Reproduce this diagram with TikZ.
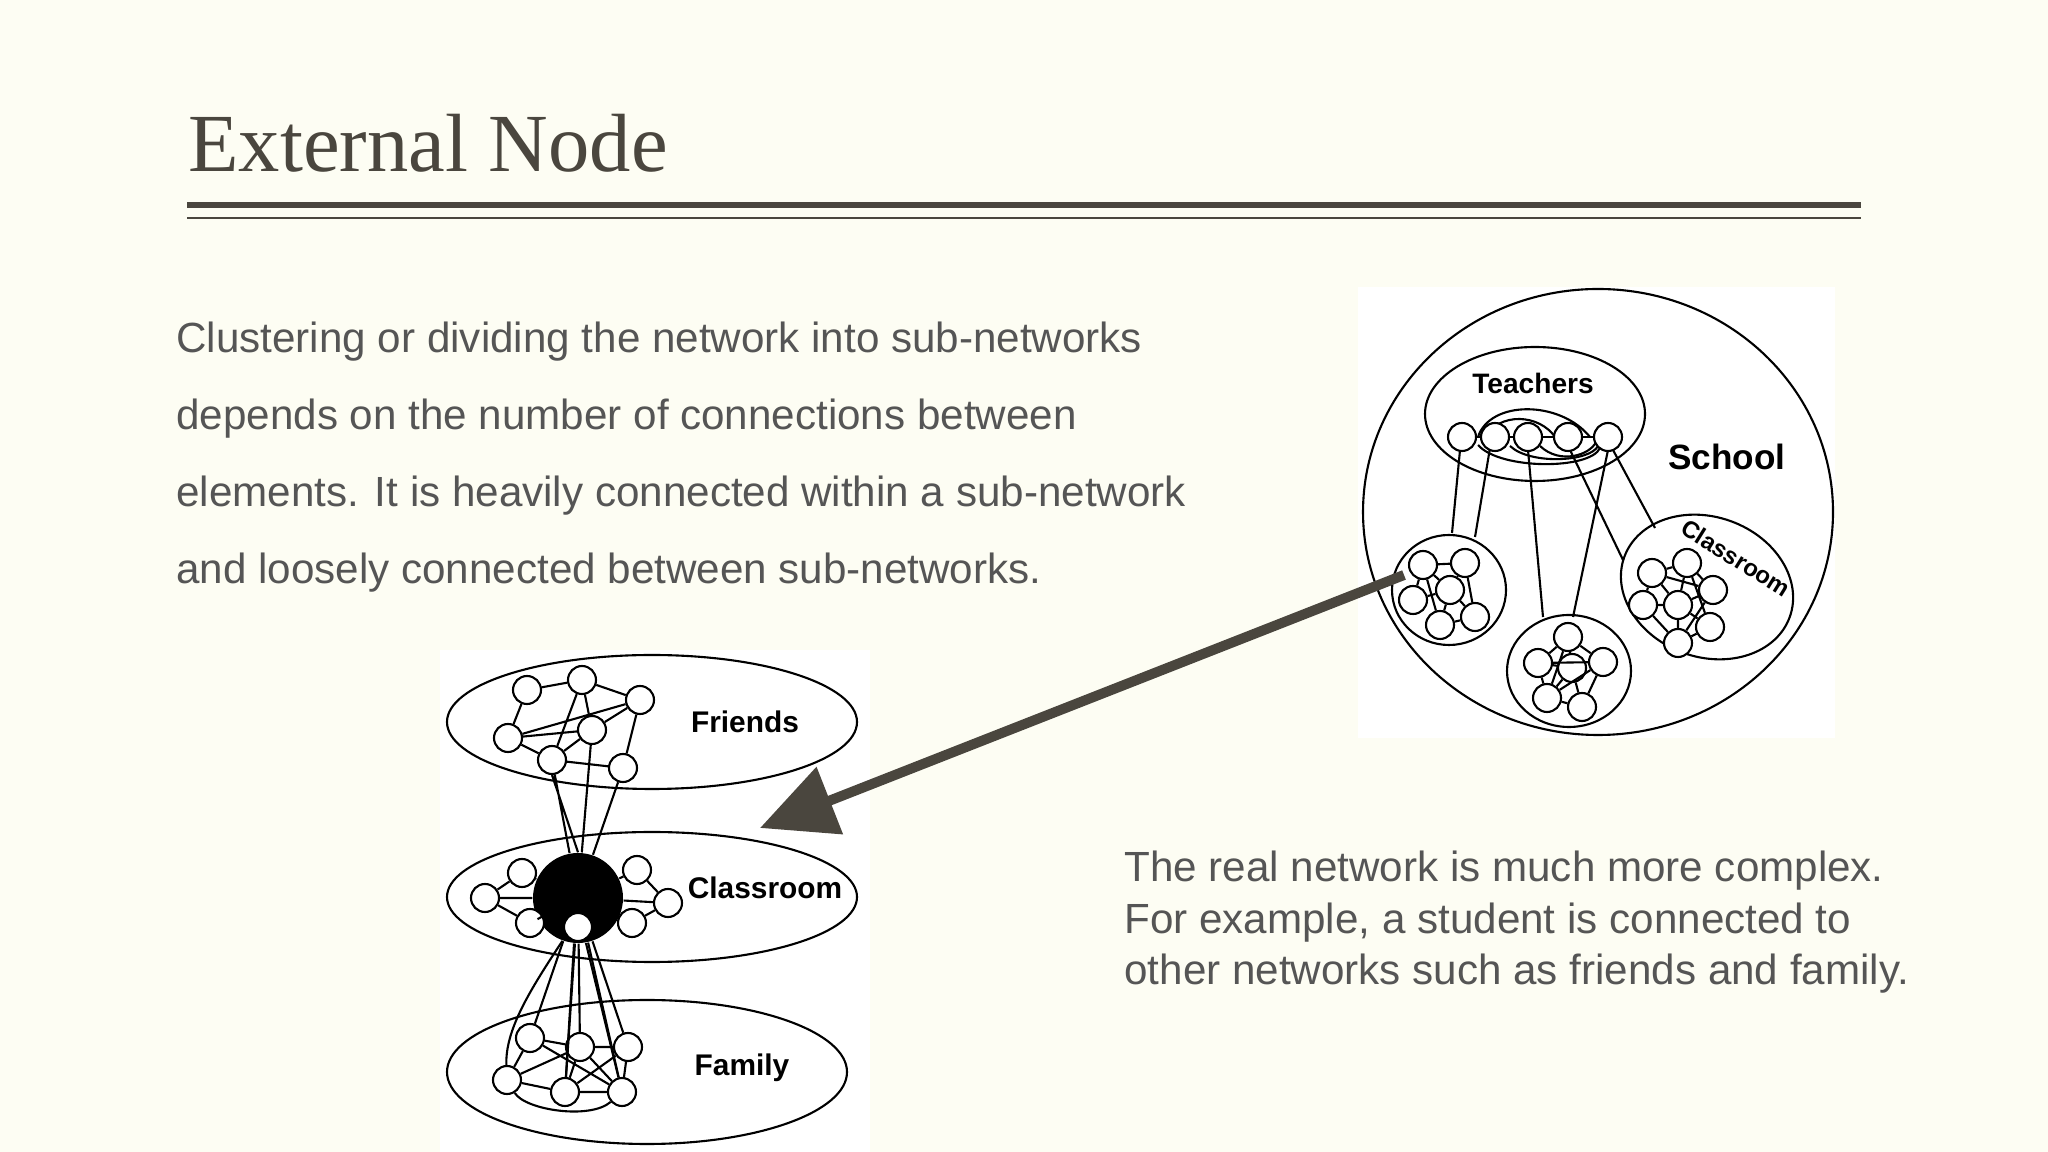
\documentclass[tikz,border=0pt]{standalone}
\usepackage{fontspec}
\setmainfont{Liberation Sans}
\newfontfamily\titlefont{Liberation Serif}
\usetikzlibrary{arrows.meta,shapes.geometric}
\definecolor{bg}{HTML}{FDFDF3}
\definecolor{ink}{HTML}{4A463E}
\definecolor{txt}{HTML}{555555}
\begin{document}
\begin{tikzpicture}[x=0.1mm,y=-0.1mm,
  sn/.style={circle,draw,line width=0.6pt,minimum size=2.8mm,inner sep=0,fill=white},
  grp/.style={ellipse,draw,line width=0.6pt,inner sep=0},
  lab/.style={font=\bfseries\fontsize{8}{9}\selectfont},
  ed/.style={line width=0.6pt},
  para/.style={text=txt,anchor=west,font=\fontsize{12}{14}\selectfont}]
\fill[bg] (0,0) rectangle (2048,1152);
\useasboundingbox (0,0) rectangle (2048,1152);
\fill[white] (1358,287) rectangle (1835,738);
\fill[white] (440,650) rectangle (870,1152);
% title
\node[anchor=west,text=ink,font=\titlefont\fontsize{23.5}{28}\selectfont] (title) at (176,143) {External Node};
\draw[ink,line width=0.65mm] (187,205) -- (1861,205);
\draw[ink,line width=0.15mm] (187,218) -- (1861,218);
% paragraph
\node[para] (p1) at (164,342) {Clustering or dividing the network into sub-networks};
\node[para] (p2) at (164,419) {depends on the number of connections between};
\node[para] (p3) at (164,496) {elements. It is heavily connected within a sub-network};
\node[para] (p4) at (164,573) {and loosely connected between sub-networks.};
\node[para] (q1) at (1112,871) {The real network is much more complex.};
\node[para] (q2) at (1112,923) {For example, a student is connected to};
\node[para] (q3) at (1112,974) {other networks such as friends and family.};
% ===== School diagram
\node[grp,minimum width=47mm,minimum height=44.6mm] (school) at (1598,512) {};
\node[font=\bfseries\fontsize{10}{12}\selectfont] (schoollab) at (1727,457) {School};
\node[grp,minimum width=22mm,minimum height=13.4mm] (teach) at (1535,414) {};
\node[lab] (teachlab) at (1533,383) {Teachers};
\node[grp,minimum width=11.4mm,minimum height=11mm] (L) at (1449,590) {};
\node[grp,minimum width=12.4mm,minimum height=11.2mm] (B) at (1569,671) {};
\node[grp,minimum width=17.6mm,minimum height=14mm,rotate=-20] (R) at (1707,587) {};
\node[font=\bfseries\fontsize{6.8}{8}\selectfont,rotate=-32,inner sep=0] (rlab) at (1736,558) {Classroom};
% teacher links
\draw[ed] (1460,450) -- (1452,533);
\draw[ed] (1490,448) -- (1475,537);
\draw[ed] (1528,450) -- (1543,617);
\draw[ed] (1608,450) -- (1573,617);
\draw[ed] (1570,450) -- (1623,560);
\draw[ed] (1613,450) -- (1655,528);
% teacher arcs
\draw[ed] (1478,437) .. controls (1490,400) and (1560,400) .. (1590,437);
\draw[ed] (1482,440) .. controls (1500,410) and (1540,415) .. (1555,437);
\draw[ed] (1478,445) .. controls (1500,470) and (1590,470) .. (1600,448);
\draw[ed] (1510,446) .. controls (1530,465) and (1590,462) .. (1598,446);
\draw[ed] (1540,446) .. controls (1560,465) and (1590,455) .. (1596,442);
\foreach \i/\x in {1/1462,2/1495,3/1528,4/1568,5/1608} \node[sn] (t\i) at (\x,437) {};
\draw[ed] (t1)--(t2) (t2)--(t3) (t3)--(t4) (t4)--(t5);
% left group
\node[sn] (l1) at (1423,565) {}; \node[sn] (l2) at (1465,563) {};
\node[sn] (l3) at (1450,590) {}; \node[sn] (l4) at (1413,600) {};
\node[sn] (l5) at (1440,625) {}; \node[sn] (l6) at (1475,617) {};
\draw[ed] (l1)--(l2) (l1)--(l3) (l1)--(l5) (l2)--(l3) (l2)--(l6) (l3)--(l5) (l3)--(l6) (l4)--(l1) (l5)--(l6) (l4)--(l3);
% bottom group
\node[sn] (b1) at (1568,637) {}; \node[sn] (b2) at (1538,663) {};
\node[sn] (b3) at (1603,662) {}; \node[sn] (b4) at (1572,668) {};
\node[sn] (b5) at (1547,698) {}; \node[sn] (b6) at (1582,707) {};
\draw[ed] (b1)--(b2) (b1)--(b3) (b1)--(b4) (b2)--(b3) (b2)--(b5) (b3)--(b6) (b4)--(b5) (b4)--(b6) (b5)--(b6) (b2)--(b4) (b3)--(b5) (b1)--(b5);
% right group
\node[sn] (r1) at (1652,573) {}; \node[sn] (r2) at (1687,563) {};
\node[sn] (r3) at (1713,590) {}; \node[sn] (r4) at (1643,605) {};
\node[sn] (r5) at (1678,605) {}; \node[sn] (r6) at (1710,627) {};
\node[sn] (r7) at (1678,643) {};
\draw[ed] (r1)--(r2) (r1)--(r4) (r1)--(r5) (r2)--(r3) (r2)--(r5) (r2)--(r6) (r3)--(r5) (r3)--(r7) (r4)--(r5) (r5)--(r6) (r5)--(r7) (r6)--(r7) (r1)--(r3) (r4)--(r7);
% ===== bottom diagram
\node[grp,minimum width=41mm,minimum height=13.4mm] (fr) at (652,722) {};
\node[grp,minimum width=41mm,minimum height=13mm] (cl) at (652,897) {};
\node[grp,minimum width=40mm,minimum height=14.4mm] (fa) at (647,1072) {};
\node[lab,font=\bfseries\fontsize{8.5}{10}\selectfont] (frl) at (745,722) {Friends};
\node[lab,font=\bfseries\fontsize{8.5}{10}\selectfont] (cll) at (765,888) {Classroom};
\node[lab,font=\bfseries\fontsize{8.5}{10}\selectfont] (fal) at (742,1068) {Family};
% friends nodes
\node[sn] (f1) at (527,690) {}; \node[sn] (f2) at (582,680) {};
\node[sn] (f3) at (640,700) {}; \node[sn] (f4) at (508,738) {};
\node[sn] (f5) at (592,730) {}; \node[sn] (f6) at (552,760) {};
\node[sn] (f7) at (623,768) {};
\draw[ed] (f1)--(f2) (f2)--(f3) (f4)--(f3) (f4)--(f5) (f4)--(f6) (f2)--(f6) (f2)--(f5) (f5)--(f6) (f3)--(f7) (f6)--(f7) (f3)--(f5) (f1)--(f4);
% classroom
\node[circle,fill=black,minimum size=9mm,inner sep=0] (hub) at (578,898) {};
\node[sn] (hw) at (578,927) {};
\node[sn] (c1) at (522,873) {}; \node[sn] (c2) at (485,898) {};
\node[sn] (c3) at (530,923) {}; \node[sn] (c4) at (637,870) {};
\node[sn] (c5) at (668,903) {}; \node[sn] (c6) at (632,923) {};
\draw[ed] (c1)--(hub) (c2)--(hub) (c3)--(hub) (c4)--(hub) (c5)--(hub) (c6)--(hub) (c1)--(c2) (c2)--(c3) (c4)--(c5) (c5)--(c6);
\draw[ed] (f6)--(hub) (f5)--(hub) (f7)--(hub) (f6.south)--(hub.north);
% family
\node[sn] (m1) at (530,1038) {}; \node[sn] (m2) at (580,1047) {};
\node[sn] (m3) at (628,1047) {}; \node[sn] (m4) at (507,1080) {};
\node[sn] (m5) at (565,1092) {}; \node[sn] (m6) at (622,1092) {};
\draw[ed] (m1)--(m2) (m2)--(m3) (m1)--(m4) (m4)--(m2) (m1)--(m6) (m2)--(m6) (m3)--(m6) (m5)--(m6) (m4)--(m5) (m2)--(m5) (m3)--(m5);
\draw[ed] (m4) .. controls (525,1110) and (590,1120) .. (m6);
\draw[ed] (hub) -- (m1); \draw[ed] (hub) -- (m2); \draw[ed] (hub) -- (m3);
\draw[ed] (hub) -- (m5); \draw[ed] (hub) -- (m6);
\draw[ed] (hub.250) .. controls (530,990) and (505,1030) .. (m4);
\draw[ed] (hub.280) -- (m6);
\draw[ed] (hub.265) -- (m5);
% ===== arrow
\coordinate (as) at (1404,575);
\coordinate (at) at (760,828);
\draw[ink,line width=1mm,-{Triangle[length=7.5mm,width=7mm]}] (as) -- (at);
\end{tikzpicture}
\end{document}
